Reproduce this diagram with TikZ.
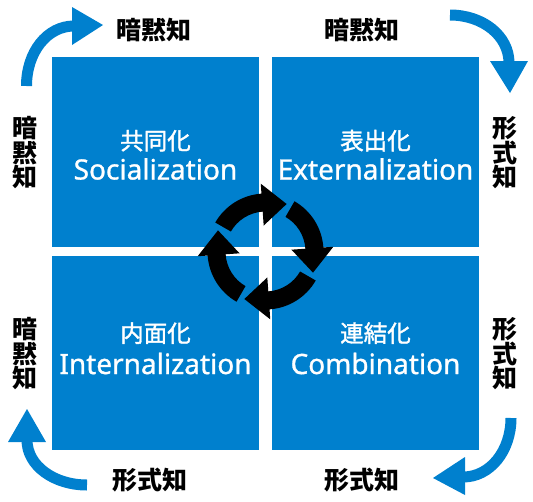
\documentclass[tikz,border=0pt]{standalone}
\usepackage{fontspec}
\setmainfont{Noto Sans}
\newfontfamily\jp{Noto Sans CJK JP}
\newfontfamily\jpmed{Noto Sans CJK JP}[FakeBold=1.6]
\newfontfamily\enmed{Noto Sans}[FakeBold=1.0]
\definecolor{kblue}{RGB}{0,128,206}
\begin{document}
\begin{tikzpicture}[x=1pt,y=-1pt,
  quad/.style={fill=kblue, draw=none, inner sep=0pt},
  jplab/.style={text=white, inner sep=0pt, anchor=base, font=\jpmed\fontsize{23.5}{24}\selectfont},
  enlab/.style={text=white, inner sep=0pt, anchor=base, font=\enmed\fontsize{28}{28}\selectfont},
  outer/.style={text=black, inner sep=0pt, font=\jp\bfseries\fontsize{25}{24.5}\selectfont},
  vouter/.style={outer, align=center},
  bluearc/.style={draw=kblue, line width=11pt},
  bluehead/.style={fill=kblue, draw=none}]
\useasboundingbox (0,0) rectangle (533,501);

% quadrants
\node[quad, minimum width=207pt, minimum height=190pt] (soc) at (155.5,152) {};
\node[quad, minimum width=207pt, minimum height=190pt] (ext) at (375.5,152) {};
\node[quad, minimum width=207pt, minimum height=194pt] (int) at (155.5,353) {};
\node[quad, minimum width=207pt, minimum height=194pt] (com) at (375.5,353) {};

% quadrant labels
\node[jplab] (socjp) at (155.5,149.5) {共同化};
\node[enlab] (socen) at (155.5,179.5) {Socialization};
\node[jplab] (extjp) at (375.5,149.5) {表出化};
\node[enlab] (exten) at (375.5,179.5) {Externalization};
\node[jplab] (intjp) at (155.5,342) {内面化};
\node[enlab] (inten) at (155.5,374) {Internalization};
\node[jplab] (comjp) at (375.5,342) {連結化};
\node[enlab] (comen) at (375.5,374) {Combination};

% outer labels
\node[outer] (ttl) at (153.5,30) {暗黙知};
\node[outer] (ttr) at (362,30) {暗黙知};
\node[outer] (tbl) at (150,480) {形式知};
\node[outer] (tbr) at (362,480) {形式知};
\node[vouter] (tlu) at (25,153) {暗\\黙\\知};
\node[vouter] (tll) at (25,354) {暗\\黙\\知};
\node[vouter] (tru) at (505,153) {形\\式\\知};
\node[vouter] (trl) at (505,354) {形\\式\\知};

% corner arrows
\draw[bluearc] (26.5,86) .. controls (26.5,52.4) and (46.9,26) .. (74,26);
\fill[bluehead] (72,7) -- (103,25) -- (72,45) -- cycle;
\draw[bluearc] (450,15) .. controls (482.6,15) and (509,35.6) .. (509,63);
\fill[bluehead] (490,61) -- (510,93) -- (528,61) -- cycle;
\draw[bluearc] (511,418) .. controls (511,450.6) and (490.4,477) .. (463,477);
\fill[bluehead] (465,457) -- (433,478) -- (465,495) -- cycle;
\draw[bluearc] (87,485) .. controls (53.9,485) and (27,465.7) .. (27,440);
\fill[bluehead] (8,442) -- (27,409) -- (46,442) -- cycle;

% central cycle
\begin{scope}[shift={(265.5,251.5)}, yscale=-1]
\foreach \a in {90,0,-90,180}{
  \fill[black] (\a+60:58) arc[start angle=\a+60, end angle=\a+4, radius=58]
    -- (\a+4:68) -- (\a-24:52) -- (\a+4:26) -- (\a+4:40)
    arc[start angle=\a+4, end angle=\a+60, radius=40] -- cycle;
}
\end{scope}
\end{tikzpicture}
\end{document}
